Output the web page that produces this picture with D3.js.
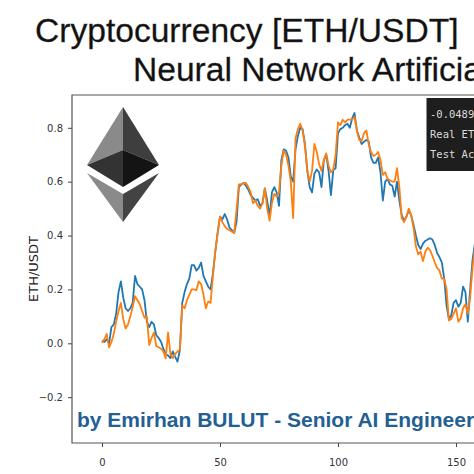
<!DOCTYPE html>
<html>
<head>
<meta charset="utf-8">
<script src="https://cdn.jsdelivr.net/npm/d3@7/dist/d3.min.js"></script>
<style>
  html, body { margin: 0; padding: 0; background: #fff; overflow: hidden; }
  svg { display: block; }
</style>
</head>
<body>
<div id="chart"></div>
<script>
// real price (blue) and network prediction (orange), normalised
const realEth = [
  0.01, 0.005, 0.015, 0.00, 0.06, 0.07, 0.11, 0.19, 0.23, 0.17,
  0.13, 0.12, 0.13, 0.15, 0.25, 0.22, 0.21, 0.20, 0.16, 0.08,
  0.06, 0.08, 0.07, 0.03, 0.02, 0.006, -0.02, -0.04, -0.045, -0.055,
  -0.03, -0.05, -0.068, -0.025, 0.15, 0.19, 0.22, 0.24, 0.29, 0.29,
  0.27, 0.28, 0.30, 0.25, 0.23, 0.21, 0.20, 0.26, 0.34, 0.41,
  0.47, 0.46, 0.48, 0.46, 0.43, 0.42, 0.41, 0.45, 0.58, 0.59,
  0.595, 0.585, 0.57, 0.55, 0.54, 0.53, 0.535, 0.51, 0.52, 0.575,
  0.53, 0.47, 0.56, 0.58, 0.56, 0.51, 0.68, 0.72, 0.715, 0.69,
  0.62, 0.60, 0.72, 0.77, 0.80, 0.795, 0.74, 0.64, 0.58, 0.56,
  0.63, 0.645, 0.635, 0.58, 0.68, 0.70, 0.64, 0.55, 0.643, 0.65,
  0.78, 0.795, 0.80, 0.81, 0.815, 0.80, 0.835, 0.855, 0.79, 0.765,
  0.74, 0.748, 0.755, 0.75, 0.69, 0.67, 0.67, 0.69, 0.635, 0.53,
  0.60, 0.61, 0.59, 0.585, 0.545, 0.60, 0.53, 0.475, 0.455, 0.47,
  0.495, 0.475, 0.44, 0.40, 0.365, 0.35, 0.37, 0.38, 0.385, 0.39,
  0.385, 0.365, 0.335, 0.32, 0.30, 0.24, 0.14, 0.09, 0.105, 0.15,
  0.16, 0.136, 0.15, 0.21, 0.19, 0.08, 0.20, 0.31, 0.37
];
const predEth = [
  0.002, 0.015, 0.035, -0.015, 0.005, 0.035, 0.08, 0.12, 0.15, 0.09,
  0.055, 0.07, 0.10, 0.135, 0.175, 0.16, 0.145, 0.12, 0.095, 0.10,
  -0.006, 0.02, 0.04, -0.01, -0.015, -0.02, -0.03, -0.056, 0.04, -0.04,
  -0.055, -0.04, -0.03, -0.025, 0.14, 0.13, 0.16, 0.18, 0.20, 0.20,
  0.197, 0.23, 0.22, 0.18, 0.13, 0.155, 0.15, 0.25, 0.34, 0.41,
  0.47, 0.45, 0.435, 0.425, 0.42, 0.415, 0.41, 0.495, 0.59, 0.59,
  0.595, 0.595, 0.58, 0.56, 0.52, 0.53, 0.51, 0.50, 0.52, 0.575,
  0.50, 0.455, 0.52, 0.555, 0.545, 0.56, 0.66, 0.715, 0.70, 0.66,
  0.60, 0.465, 0.76, 0.795, 0.815, 0.79, 0.73, 0.64, 0.60, 0.64,
  0.74, 0.71, 0.665, 0.64, 0.68, 0.705, 0.66, 0.635, 0.645, 0.70,
  0.82, 0.81, 0.83, 0.82, 0.83, 0.83, 0.83, 0.84, 0.79, 0.755,
  0.75, 0.78, 0.79, 0.74, 0.71, 0.695, 0.70, 0.71, 0.68, 0.625,
  0.635, 0.61, 0.605, 0.60, 0.60, 0.65, 0.58, 0.465, 0.45, 0.47,
  0.50, 0.475, 0.43, 0.36, 0.33, 0.34, 0.305, 0.34, 0.355, 0.346,
  0.325, 0.30, 0.28, 0.27, 0.24, 0.24, 0.20, 0.085, 0.09, 0.11,
  0.13, 0.08, 0.093, 0.13, 0.145, 0.11, 0.17, 0.28, 0.35
];
const yTicks = [-0.2, 0.0, 0.2, 0.4, 0.6, 0.8];
const xTicks = [0, 50, 100, 150];
const titleLines = ["Cryptocurrency [ETH/USDT]", "Neural Network Artificia"];
const consoleLines = ["-0.0489", "Real ET", "Test Ac"];
const credit = "by Emirhan BULUT - Senior AI Engineer";

(() => {
  const W = 474, H = 474;
  const svg = d3.select("#chart").append("svg")
    .attr("width", W).attr("height", H);

  const x = d3.scaleLinear().domain([0, 150]).range([102, 456]);
  const y = d3.scaleLinear().domain([0, 0.8]).range([343.3, 127.8]);
  const leftX = 72, topY = 95, bottomY = 443;

  // ------- titles -------
  svg.append("text")
    .attr("x", 35).attr("y", 42)
    .attr("font-family", "Liberation Sans, Arial, sans-serif")
    .attr("font-size", 33.6).attr("fill", "#111")
    .attr("stroke", "#333").attr("stroke-width", 0.3)
    .text(titleLines[0]);
  svg.append("text")
    .attr("x", 133).attr("y", 80.5)
    .attr("font-family", "Liberation Sans, Arial, sans-serif")
    .attr("font-size", 33.6).attr("fill", "#111")
    .attr("stroke", "#333").attr("stroke-width", 0.3)
    .text(titleLines[1]);

  // ------- axes -------
  const axisFont = "DejaVu Sans, sans-serif";
  const yAxis = d3.axisLeft(y).tickValues(yTicks).tickSize(4).tickPadding(5)
    .tickFormat(d => (d < 0 ? "\u2212" : "") + Math.abs(d).toFixed(1));
  svg.append("g")
    .attr("transform", `translate(${leftX},0)`)
    .call(yAxis)
    .call(g => g.select(".domain").remove())
    .call(g => g.selectAll("line").attr("stroke", "#444"))
    .call(g => g.selectAll("text").attr("fill", "#333").style("font-size", "10px").style("font-family", axisFont));

  const xAxis = d3.axisBottom(x).tickValues(xTicks).tickSize(4).tickPadding(12);
  svg.append("g")
    .attr("transform", `translate(0,${bottomY})`)
    .call(xAxis)
    .call(g => g.select(".domain").remove())
    .call(g => g.selectAll("line").attr("stroke", "#444"))
    .call(g => g.selectAll("text").attr("fill", "#333").style("font-size", "10px").style("font-family", axisFont));

  // spines
  svg.append("path")
    .attr("d", `M${W + 2},${topY}H${leftX}V${bottomY}H${W + 2}`)
    .attr("fill", "none").attr("stroke", "#555").attr("stroke-width", 1.2);

  svg.append("text")
    .attr("transform", `translate(38,${(topY + bottomY) / 2}) rotate(-90)`)
    .attr("text-anchor", "middle")
    .attr("font-family", axisFont).attr("font-size", 13).attr("fill", "#222")
    .text("ETH/USDT");

  // ------- ethereum logo -------
  const logo = svg.append("g");
  const P = {
    apex: [123, 107], l: [87, 165], r: [159, 165], c: [123, 150], m: [123, 187],
    l2: [87, 173], r2: [159, 173], t2: [123, 194], b2: [123, 222]
  };
  const faces = [
    [["apex", "l", "c"], "#8a8a8a"],
    [["apex", "c", "r"], "#3e3e3e"],
    [["l", "c", "m"], "#333333"],
    [["c", "r", "m"], "#141414"],
    [["l2", "t2", "b2"], "#8a8a8a"],
    [["t2", "r2", "b2"], "#434343"]
  ];
  faces.forEach(([pts, col]) => {
    logo.append("path")
      .attr("d", "M" + pts.map(k => P[k].join(",")).join("L") + "Z")
      .attr("fill", col);
  });

  // ------- lines -------
  const line = d3.line().x((d, i) => x(i)).y(d => y(d));
  svg.append("path").datum(realEth)
    .attr("d", line).attr("fill", "none")
    .attr("stroke", "#1f77b4").attr("stroke-width", 1.8).attr("stroke-linejoin", "round");
  svg.append("path").datum(predEth)
    .attr("d", line).attr("fill", "none")
    .attr("stroke", "#ff7f0e").attr("stroke-width", 1.8).attr("stroke-linejoin", "round");

  // ------- console box -------
  svg.append("rect")
    .attr("x", 426.5).attr("y", 98).attr("width", 60).attr("height", 73)
    .attr("fill", "#1e1e1e");
  consoleLines.forEach((t, i) => {
    svg.append("text")
      .attr("x", 430).attr("y", 118 + i * 20)
      .attr("font-family", "DejaVu Sans Mono, monospace")
      .attr("font-size", 10.5).attr("fill", "#dcdcdc")
      .text(t);
  });

  // ------- credit -------
  svg.append("text")
    .attr("x", 77).attr("y", 427)
    .attr("font-family", "Liberation Sans, Arial, sans-serif")
    .attr("font-weight", "bold")
    .attr("font-size", 21).attr("fill", "#245f94")
    .text(credit);
})();
</script>
</body>
</html>
